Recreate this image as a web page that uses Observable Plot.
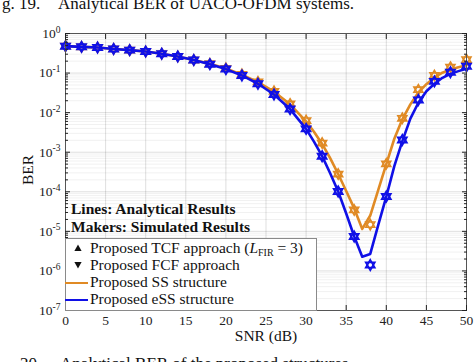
<!DOCTYPE html>
<html>
<head>
<meta charset="utf-8">
<script src="https://cdn.jsdelivr.net/npm/d3@7"></script>
<script src="https://cdn.jsdelivr.net/npm/@observablehq/plot@0.6"></script>
<style>
  body { margin: 0; background: #fff; }
  #wrap { position: relative; width: 474px; height: 362px; overflow: hidden; background: #fff;
          font-family: "Liberation Serif", "Times New Roman", serif; color: #111; }
  #wrap svg { position: absolute; left: 0; top: 0; }
  .t { position: absolute; white-space: nowrap; }
  .cap { font-size: 17px; line-height: 17px; }
  .lg { font-size: 15.5px; line-height: 15.5px; }
  .bold { font-weight: bold; }
</style>
</head>
<body>
<div id="wrap"></div>
<script>
// ---- data ----
const snrSim = [0,2,4,6,8,10,12,14,16,18,20,22,24,26,28,30,32,34,36,38,40,42,44,46,48,50];
const berSSsim = [0.479,0.460,0.443,0.407,0.380,0.351,0.309,0.263,0.214,0.172,0.132,0.093,0.060,0.0347,0.0166,6.3e-3,1.7e-3,2.8e-4,3.47e-5,1.48e-5,5.1e-4,7.2e-3,0.038,0.087,0.141,0.219];
const berESSsim = [0.479,0.460,0.443,0.407,0.380,0.351,0.309,0.263,0.214,0.168,0.126,0.0871,0.0537,0.0288,0.0123,3.89e-3,7.94e-4,1.02e-4,7.41e-6,1.41e-6,7.59e-5,2.04e-3,0.0209,0.0617,0.105,0.148];

const snrLine = [0,2,4,6,8,10,12,14,16,18,20,22,24,26,28,30,31,32,33,34,35,36,37,38,39,40,41,42,43,44,45,46,47,48,49,50];
const berSSline = [0.479,0.460,0.443,0.407,0.380,0.351,0.309,0.263,0.214,0.172,0.130,0.0912,0.0589,0.0339,0.0162,6.03e-3,3.24e-3,1.62e-3,7.08e-4,2.82e-4,1.05e-4,3.80e-5,1.15e-5,2.51e-5,1.12e-4,5.01e-4,2.19e-3,6.76e-3,0.0162,0.0324,0.0525,0.0776,0.102,0.123,0.141,0.158];
const berESSline = [0.479,0.460,0.443,0.407,0.380,0.351,0.309,0.263,0.214,0.168,0.126,0.0871,0.0537,0.0288,0.0123,3.89e-3,1.82e-3,7.94e-4,2.95e-4,1.02e-4,2.82e-5,7.41e-6,2.29e-6,2.69e-6,1.45e-5,7.59e-5,4.47e-4,1.91e-3,7.08e-3,0.0178,0.0347,0.0537,0.0759,0.0955,0.112,0.129];

const xTicks = [0,5,10,15,20,25,30,35,40,45,50];
const yDecades = [1e-7,1e-6,1e-5,1e-4,1e-3,1e-2,1e-1,1];
const minorMult = [2,3,4,5,6,7,8,9];

const colSS = "#e08a24";
const colESS = "#1010e6";

// ---- build ----
const yMinor = yDecades.slice(0, -1).flatMap(d => minorMult.map(m => d * m));
const simSS = snrSim.map((x, i) => ({x, y: berSSsim[i]}));
const simESS = snrSim.map((x, i) => ({x, y: berESSsim[i]}));
const lineSS = snrLine.map((x, i) => ({x, y: berSSline[i]}));
const lineESS = snrLine.map((x, i) => ({x, y: berESSline[i]}));

const triUp = {draw(ctx, size) { const R = Math.sqrt(size / Math.PI) * 1.2;
  ctx.moveTo(0, -R); ctx.lineTo(R * 0.866, R * 0.5); ctx.lineTo(-R * 0.866, R * 0.5); ctx.closePath(); }};
const triDown = {draw(ctx, size) { const R = Math.sqrt(size / Math.PI) * 1.2;
  ctx.moveTo(0, R); ctx.lineTo(R * 0.866, -R * 0.5); ctx.lineTo(-R * 0.866, -R * 0.5); ctx.closePath(); }};

const blank = () => "";
const svg = Plot.plot({
  width: 474, height: 362,
  marginLeft: 65, marginRight: 8, marginTop: 33, marginBottom: 52,
  style: {fontFamily: "Liberation Serif, serif", fontSize: "13px", color: "#222", background: "transparent", overflow: "visible"},
  x: {domain: [0, 50], label: null},
  y: {type: "log", domain: [1e-7, 1], label: null},
  marks: [
    Plot.gridY({ticks: yMinor, stroke: "#000", strokeOpacity: 0.06}),
    Plot.gridY({ticks: yDecades, stroke: "#000", strokeOpacity: 0.13}),
    Plot.gridX({ticks: xTicks, stroke: "#000", strokeOpacity: 0.13}),
    Plot.line(lineSS, {x: "x", y: "y", stroke: colSS, strokeWidth: 2.6}),
    Plot.dot(simSS, {x: "x", y: "y", symbol: triUp, r: 4.3, stroke: colSS, strokeWidth: 1.6, fill: "none"}),
    Plot.dot(simSS, {x: "x", y: "y", symbol: triDown, r: 4.3, stroke: colSS, strokeWidth: 1.6, fill: "none"}),
    Plot.line(lineESS, {x: "x", y: "y", stroke: colESS, strokeWidth: 2.6}),
    Plot.dot(simESS, {x: "x", y: "y", symbol: triUp, r: 4.3, stroke: colESS, strokeWidth: 1.8, fill: "none"}),
    Plot.dot(simESS, {x: "x", y: "y", symbol: triDown, r: 4.3, stroke: colESS, strokeWidth: 1.8, fill: "none"}),
    Plot.frame({stroke: "#555"}),
    Plot.axisX({anchor: "bottom", ticks: xTicks, tickSize: -5, tickPadding: 10, fontSize: 13.5, label: null}),
    Plot.axisX({anchor: "top", ticks: xTicks, tickSize: -5, tickFormat: blank, label: null}),
    Plot.axisY({anchor: "left", ticks: yDecades, tickSize: -5, tickPadding: 10, fontSize: 13.5,
                tickFormat: d => "10^" + Math.round(Math.log10(d)), label: null}),
    Plot.axisY({anchor: "left", ticks: yMinor, tickSize: -3, tickFormat: blank, label: null}),
    Plot.axisY({anchor: "right", ticks: yDecades, tickSize: -5, tickFormat: blank, label: null}),
    Plot.axisY({anchor: "right", ticks: yMinor, tickSize: -3, tickFormat: blank, label: null})
  ]
});

// superscript exponents on the y tick labels
d3.select(svg).selectAll('g[aria-label="y-axis tick label"] text').each(function() {
  const t = this.textContent;
  if (!t.includes("^")) return;
  const [base, ex] = t.split("^");
  const sel = d3.select(this);
  sel.text(null);
  sel.append("tspan").text(base);
  sel.append("tspan").attr("dy", "-0.55em").attr("font-size", "9.5px").text(ex);
});

const wrap = document.getElementById("wrap");
wrap.appendChild(svg);

function add(html, cls, style) {
  const d = document.createElement("div");
  d.className = "t " + cls;
  d.innerHTML = html;
  Object.assign(d.style, style);
  wrap.appendChild(d);
  return d;
}
// captions (cut by the frame of the picture)
add("g. 19.", "cap", {left: "2px", top: "-4.8px"});
add("Analytical BER of UACO-OFDM systems.", "cap", {left: "58px", top: "-4.8px"});
add("20.", "cap", {left: "20px", top: "354.5px"});
add("Analytical BER of the proposed structures", "cap", {left: "60px", top: "354.5px"});

// axis titles
add("SNR (dB)", "lg", {left: "266px", top: "327.5px", transform: "translateX(-50%)"});
add("BER", "lg", {left: "28px", top: "170px", transform: "translate(-50%,-50%) rotate(-90deg)"});

// legend
add("Lines: Analytical Results", "lg bold", {left: "71px", top: "200.5px"});
add("Makers: Simulated Results", "lg bold", {left: "71px", top: "219px"});
add("", "", {left: "65px", top: "238px", width: "250px", height: "71px", border: "1px solid #8a8a8a", background: "#fff"});
const up = '<svg width="10" height="10" style="position:absolute;left:-5px;top:-5px"><path d="M5,1.5L8.6,8L1.4,8Z" fill="#111"/></svg>';
const dn = '<svg width="10" height="10" style="position:absolute;left:-5px;top:-5px"><path d="M5,8.5L8.6,2L1.4,2Z" fill="#111"/></svg>';
add(up, "", {left: "78px", top: "248px"});
add(dn, "", {left: "78px", top: "265px"});
add("", "", {left: "65px", top: "282px", width: "23px", height: "2.4px", background: colSS});
add("", "", {left: "65px", top: "299px", width: "23px", height: "2.4px", background: colESS});
add('Proposed TCF approach (<i>L</i><span style="font-size:10px;position:relative;top:3px">FIR</span> = 3)', "lg", {left: "90px", top: "239.7px"});
add("Proposed FCF approach", "lg", {left: "90px", top: "256.7px"});
add("Proposed SS structure", "lg", {left: "90px", top: "274px"});
add("Proposed eSS structure", "lg", {left: "90px", top: "290.7px"});
</script>
</body>
</html>
